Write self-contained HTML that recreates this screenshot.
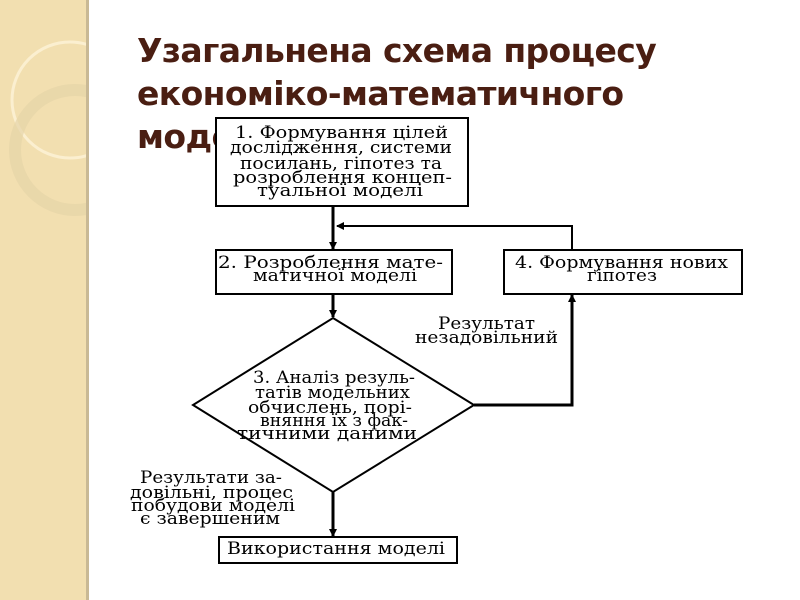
<!DOCTYPE html>
<html><head><meta charset="utf-8"><style>
body{margin:0;width:800px;height:600px;overflow:hidden;background:#fff;position:relative}
#strip{position:absolute;left:0;top:0;width:86px;height:600px;background:#f2dfb0;border-right:3px solid #c9b995}
h1{position:absolute;left:137px;top:29px;margin:0;font:bold 33px/43px "DejaVu Sans",sans-serif;color:#4a1e12;letter-spacing:-0.6px}
svg{position:absolute;left:0;top:0}
text{font-family:"DejaVu Serif","Liberation Serif",serif;font-size:17px;fill:#000}
</style></head><body>
<div id="strip">
<svg width="86" height="600"><circle cx="70" cy="100" r="58" fill="none" stroke="#fbefd0" stroke-width="3"/><circle cx="75" cy="150" r="60" fill="none" stroke="#e6d4a8" stroke-width="12" opacity=".7"/></svg>
</div>
<h1>Узагальнена схема процесу<br>економіко-математичного<br>моделювання</h1>
<svg width="800" height="600">
<defs><marker id="a" markerWidth="8" markerHeight="8" refX="7" refY="4" orient="auto" markerUnits="userSpaceOnUse"><path d="M0,0L8,4L0,8z" fill="#000"/></marker></defs>
<g stroke="#000" stroke-width="2" fill="#fff">
<rect x="216" y="118" width="252" height="88"/>
<rect x="216" y="250" width="236" height="44"/>
<rect x="504" y="250" width="238" height="44"/>
<polygon points="333,318 474,405 333,492 193,405"/>
<rect x="219" y="537" width="238" height="26"/>
</g>
<g stroke="#000" stroke-width="3" fill="none">
<line x1="333" y1="206" x2="333" y2="249" marker-end="url(#a)"/>
<polyline points="572,250 572,226 337,226" marker-end="url(#a)" stroke-width="2"/>
<line x1="333" y1="294" x2="333" y2="317" marker-end="url(#a)"/>
<polyline points="474,405 572,405 572,295" marker-end="url(#a)"/>
<line x1="333" y1="492" x2="333" y2="536" marker-end="url(#a)"/>
</g>
<g>
<text x="235" y="138" textLength="213" lengthAdjust="spacingAndGlyphs">1. Формування цілей</text>
<text x="230" y="153" textLength="222" lengthAdjust="spacingAndGlyphs">дослідження, системи</text>
<text x="240" y="169" textLength="202" lengthAdjust="spacingAndGlyphs">посилань, гіпотез та</text>
<text x="233" y="183" textLength="219" lengthAdjust="spacingAndGlyphs">розроблення концеп-</text>
<text x="257" y="196" textLength="166" lengthAdjust="spacingAndGlyphs">туальної моделі</text>
<text x="218" y="268" textLength="225" lengthAdjust="spacingAndGlyphs">2. Розроблення мате-</text>
<text x="253" y="281" textLength="164" lengthAdjust="spacingAndGlyphs">матичної моделі</text>
<text x="515" y="268" textLength="213" lengthAdjust="spacingAndGlyphs">4. Формування нових</text>
<text x="587" y="281" textLength="70" lengthAdjust="spacingAndGlyphs">гіпотез</text>
<text x="253" y="383" textLength="162" lengthAdjust="spacingAndGlyphs">3. Аналіз резуль-</text>
<text x="255" y="398" textLength="155" lengthAdjust="spacingAndGlyphs">татів модельних</text>
<text x="248" y="413" textLength="164" lengthAdjust="spacingAndGlyphs">обчислень, порі-</text>
<text x="260" y="426" textLength="148" lengthAdjust="spacingAndGlyphs">вняння їх з фак-</text>
<text x="237" y="439" textLength="180" lengthAdjust="spacingAndGlyphs">тичними даними</text>
<text x="438" y="329" textLength="97" lengthAdjust="spacingAndGlyphs">Результат</text>
<text x="415" y="343" textLength="143" lengthAdjust="spacingAndGlyphs">незадовільний</text>
<text x="140" y="483" textLength="142" lengthAdjust="spacingAndGlyphs">Результати за-</text>
<text x="130" y="498" textLength="163" lengthAdjust="spacingAndGlyphs">довільні, процес</text>
<text x="131" y="511" textLength="164" lengthAdjust="spacingAndGlyphs">побудови моделі</text>
<text x="140" y="524" textLength="140" lengthAdjust="spacingAndGlyphs">є завершеним</text>
<text x="227" y="554" textLength="218" lengthAdjust="spacingAndGlyphs">Використання моделі</text>
</g>
</svg>
</body></html>
